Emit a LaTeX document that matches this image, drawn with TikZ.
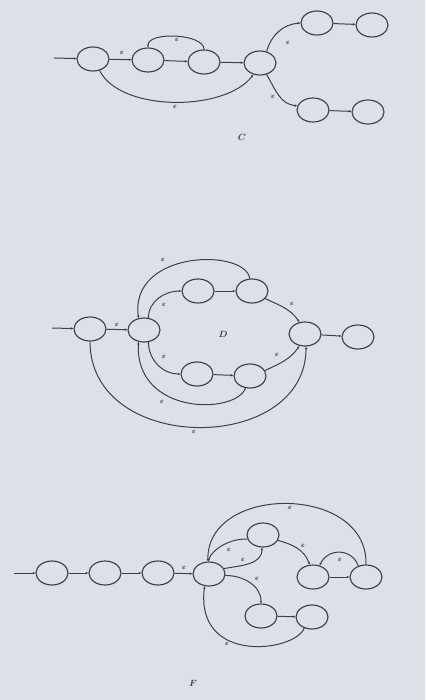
\documentclass[tikz,border=0pt]{standalone}
\usetikzlibrary{shapes.geometric,arrows.meta}
\definecolor{bg}{RGB}{220,225,232}
\definecolor{ink}{RGB}{62,64,68}
\begin{document}
\begin{tikzpicture}[x=1pt,y=-1pt,
  st/.style={draw=ink,line width=1.15pt,ellipse,minimum width=32pt,minimum height=24pt,inner sep=0pt},
  arr/.style={draw=ink,line width=1pt,-{Latex[length=2.6pt,width=2.6pt]}},
  lbl/.style={text=ink,font=\fontsize{7}{8}\selectfont\boldmath,inner sep=0pt},
  figname/.style={text=ink,font=\fontsize{9}{10}\selectfont\boldmath,inner sep=0pt}]
\fill[bg] (0,0) rectangle (425,700);
\useasboundingbox (0,0) rectangle (425,700);
% ---------- C ----------
\coordinate (c0) at (54,58);
\node[st] (c1) at (93,59) {};
\node[st] (c2) at (148,60) {};
\node[st] (c3) at (204,62) {};
\node[st] (c4) at (260,63) {};
\node[st] (c5) at (317,23) {};
\node[st] (c6) at (372,25) {};
\node[st] (c7) at (313,110) {};
\node[st] (c8) at (368,112) {};
\draw[arr] (c0) -- (c1);
\draw[arr] (c1) -- (c2);
\draw[arr] (c2) -- (c3);
\draw[arr] (c3) -- (c4);
\draw[arr] (c3.north) .. controls +(0,-16) and +(0,-16) .. (c2.north);
\draw[arr] (c1.-60) .. controls (120,112) and (225,112) .. (c4.-120);
\draw[arr] (c4.60) to[out=75,in=185] (c5.west);
\draw[arr] (c4.-60) to[out=-60,in=175] (c7.165);
\draw[arr] (c5) -- (c6);
\draw[arr] (c7) -- (c8);
\node[lbl] (ce1) at (122,53) {$\varepsilon$};
\node[lbl] (ce2) at (177,40) {$\varepsilon$};
\node[lbl] (ce3) at (175,107) {$\varepsilon$};
\node[lbl] (ce4) at (288,43) {$\varepsilon$};
\node[lbl] (ce5) at (273,97) {$\varepsilon$};
\node[figname] (capC) at (242,137) {$C$};
% ---------- D ----------
\coordinate (d0) at (52,328);
\node[st] (d1) at (90,329) {};
\node[st] (d2) at (144,330) {};
\node[st] (d3) at (198,291) {};
\node[st] (d4) at (252,291) {};
\node[st] (d5) at (197,374) {};
\node[st] (d6) at (250,376) {};
\node[st] (d7) at (305,334) {};
\node[st] (d8) at (358,337) {};
\draw[arr] (d0) -- (d1);
\draw[arr] (d1) -- (d2);
\draw[arr] (d4.100) .. controls (245,248) and (130,250) .. (d2.115);
\draw[arr] (d2.70) to[out=90,in=180] (d3.west);
\draw[arr] (d3) -- (d4);
\draw[arr] (d4.-30) to[out=-25,in=125] (d7.115);
\draw[arr] (d2.-70) to[out=-90,in=180] (d5.west);
\draw[arr] (d5) -- (d6);
\draw[arr] (d6.20) to[out=25,in=-125] (d7.-115);
\draw[arr] (d6.-110) .. controls (235,415) and (135,415) .. (d2.-115);
\draw[arr] (d1.south) .. controls (90,455) and (305,455) .. (d7.-85);
\draw[arr] (d7) -- (d8);
\node[lbl] (de1) at (117,325) {$\varepsilon$};
\node[lbl] (de2) at (163,260) {$\varepsilon$};
\node[lbl] (de3) at (164,305) {$\varepsilon$};
\node[lbl] (de4) at (292,304) {$\varepsilon$};
\node[lbl] (de5) at (164,357) {$\varepsilon$};
\node[lbl] (de6) at (277,355) {$\varepsilon$};
\node[lbl] (de7) at (162,402) {$\varepsilon$};
\node[lbl] (de8) at (194,432) {$\varepsilon$};
\node[figname] (capD) at (223,334) {$D$};
% ---------- F ----------
\coordinate (f0) at (14,573);
\node[st] (f1) at (52,573) {};
\node[st] (f2) at (105,573) {};
\node[st] (f3) at (158,573) {};
\node[st] (f4) at (209,574) {};
\node[st] (f5) at (263,535) {};
\node[st] (f6) at (313,577) {};
\node[st] (f7) at (366,577) {};
\node[st] (f8) at (261,616) {};
\node[st] (f9) at (312,617) {};
\draw[arr] (f0) -- (f1);
\draw[arr] (f1) -- (f2);
\draw[arr] (f2) -- (f3);
\draw[arr] (f3) -- (f4);
\draw[arr] (f7.north) .. controls (368,484) and (207,484) .. (f4.95);
\draw[arr] (f5.195) .. controls (232,538) and (213,548) .. (f4.95);
\draw[arr] (f4.20) to[out=10,in=-90] (f5.-95);
\draw[arr] (f5.-20) to[out=-15,in=110] (f6.105);
\draw[arr] (f6) -- (f7);
\draw[arr] (f7.125) .. controls (352,548) and (328,548) .. (f6.60);
\draw[arr] (f4.-5) to[out=0,in=90] (f8.north);
\draw[arr] (f8) -- (f9);
\draw[arr] (f9.-125) .. controls (295,652) and (195,665) .. (f4.-110);
\node[lbl] (fe1) at (184,568) {$\varepsilon$};
\node[lbl] (fe2) at (290,508) {$\varepsilon$};
\node[lbl] (fe3) at (229,550) {$\varepsilon$};
\node[lbl] (fe4) at (243,560) {$\varepsilon$};
\node[lbl] (fe5) at (303,546) {$\varepsilon$};
\node[lbl] (fe6) at (340,560) {$\varepsilon$};
\node[lbl] (fe7) at (257,579) {$\varepsilon$};
\node[lbl] (fe8) at (227,644) {$\varepsilon$};
\node[figname] (capF) at (193,683) {$F$};
\end{tikzpicture}
\end{document}
